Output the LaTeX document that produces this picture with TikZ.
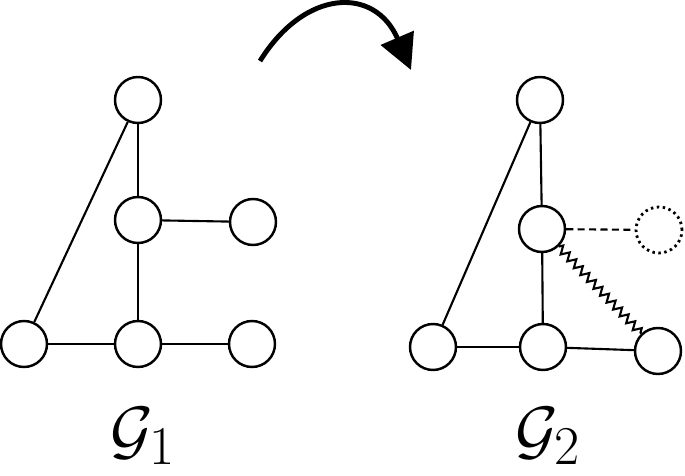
\documentclass[tikz,border=0pt]{standalone}
\usetikzlibrary{arrows.meta, decorations.pathmorphing}

\begin{document}
\begin{tikzpicture}[line width=1.2pt]
    \tikzstyle{vertex}=[circle, draw=black, line width=1.4pt, minimum size=0.92cm, inner sep=0pt]
    \tikzstyle{ghost}=[vertex, dotted, line width=1.6pt]
    \tikzstyle{wiggle}=[decorate, decoration={zigzag, segment length=0.19cm, amplitude=0.08cm}]
    \tikzstyle{glabel}=[font=\Huge, scale=1.5]

    \useasboundingbox (0,0) rectangle (13.7,9.52);

    % first graph
    \node[vertex] (A-top) at (2.76,7.52) {};
    \node[vertex] (A-mid) at (2.76,5.12) {};
    \node[vertex] (A-side) at (5.06,5.08) {};
    \node[vertex] (A-bl) at (0.48,2.64) {};
    \node[vertex] (A-bm) at (2.76,2.64) {};
    \node[vertex] (A-br) at (5.04,2.64) {};
    \node[glabel] (L-1) at (2.86,0.8) {$\mathcal{G}_1$};

    \path (A-top) edge (A-mid);
    \path (A-top) edge (A-bl);
    \path (A-mid) edge (A-side);
    \path (A-mid) edge (A-bm);
    \path (A-bl) edge (A-bm);
    \path (A-bm) edge (A-br);

    % second graph
    \node[vertex] (B-top) at (10.8,7.52) {};
    \node[vertex] (B-mid) at (10.84,4.94) {};
    \node[ghost] (B-side) at (13.18,4.92) {};
    \node[vertex] (B-bl) at (8.66,2.58) {};
    \node[vertex] (B-bm) at (10.86,2.58) {};
    \node[vertex] (B-br) at (13.16,2.5) {};
    \node[glabel] (L-2) at (10.96,0.8) {$\mathcal{G}_2$};

    \path (B-top) edge (B-mid);
    \path (B-top) edge (B-bl);
    \path (B-mid) edge (B-bm);
    \path (B-bl) edge (B-bm);
    \path (B-bm) edge (B-br);
    \draw[dash pattern=on 4pt off 2.5pt] (B-mid) -- (B-side);
    \draw[wiggle] (B-mid) -- (B-br);

    % transformation arrow
    \coordinate (S) at (5.2,8.3);
    \coordinate (T) at (8.22,8.12);
    \draw[line width=2.8pt, -{Triangle[length=0.7cm, width=0.7cm]}] (S) .. controls (6.1,9.75) and (7.5,9.8) .. (T);
\end{tikzpicture}
\end{document}
